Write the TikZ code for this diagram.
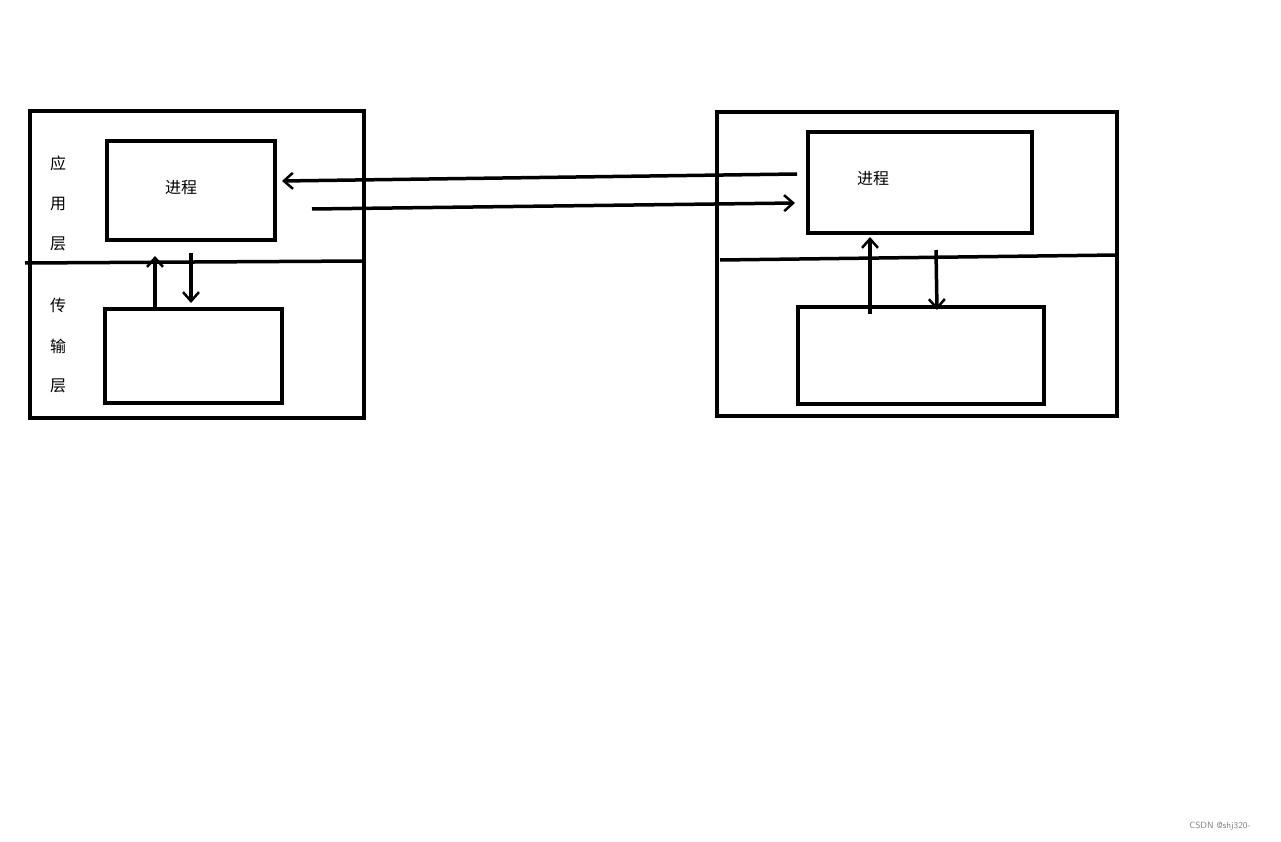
\documentclass[tikz,border=0pt]{standalone}
\usepackage{fontspec}
\newfontfamily\cjk{Noto Sans CJK SC}
\usetikzlibrary{arrows.meta}
\begin{document}
\begin{tikzpicture}[x=1pt,y=-1pt,
  thick line/.style={line width=3.5pt},
  arr/.style={line width=3.5pt,-{Straight Barb[length=9pt,width=16pt,line width=2.5pt]}},
  lbl/.style={font=\cjk\fontsize{16}{18}\selectfont}]
\useasboundingbox (0,0) rectangle (1281,842);
% left
\node[draw,thick line,minimum width=334pt,minimum height=307pt,inner sep=0] (L) at (197,264.5) {};
\coordinate (La) at (25,263); \coordinate (Lb) at (364,261);
\draw[thick line] (La) -- (Lb);
\node[draw,thick line,minimum width=168pt,minimum height=99pt,inner sep=0,lbl,text depth=0pt] (LP) at (191,190.5) {};
\node[lbl] (LPt) at (181,188) {进程};
\node[draw,thick line,minimum width=177pt,minimum height=94pt,inner sep=0] (LT) at (193.5,356) {};
\node[lbl] (l1) at (58,163) {应}; \node[lbl] (l2) at (58,204) {用}; \node[lbl] (l3) at (58,244) {层};
\node[lbl] (l4) at (58,305) {传}; \node[lbl] (l5) at (58,346) {输}; \node[lbl] (l6) at (58,386) {层};
\coordinate (a1s) at (155,309); \coordinate (a1e) at (155,256);
\draw[arr] (a1s) -- (a1e);
\coordinate (a2s) at (191,253); \coordinate (a2e) at (191,303);
\draw[arr] (a2s) -- (a2e);
% right
\node[draw,thick line,minimum width=400pt,minimum height=304pt,inner sep=0] (R) at (917,264) {};
\coordinate (Ra) at (720,260); \coordinate (Rb) at (1117,255);
\draw[thick line] (Ra) -- (Rb);
\node[draw,thick line,minimum width=224pt,minimum height=101pt,inner sep=0] (RP) at (920,182.5) {};
\node[lbl] (RPt) at (873,179) {进程};
\node[draw,thick line,minimum width=246pt,minimum height=97pt,inner sep=0] (RT) at (921,355.5) {};
\coordinate (b1s) at (870,314); \coordinate (b1e) at (870,237);
\draw[arr] (b1s) -- (b1e);
\coordinate (b2s) at (936,250); \coordinate (b2e) at (937,310);
\draw[arr] (b2s) -- (b2e);
% between
\coordinate (h1s) at (797,174); \coordinate (h1e) at (282,181);
\draw[arr] (h1s) -- (h1e);
\coordinate (h2s) at (312,209); \coordinate (h2e) at (795,203);
\draw[arr] (h2s) -- (h2e);
\node[font=\sffamily\fontsize{9}{10}\selectfont,text=gray] (wm) at (1220,826) {CSDN @shj320-};
\end{tikzpicture}
\end{document}
